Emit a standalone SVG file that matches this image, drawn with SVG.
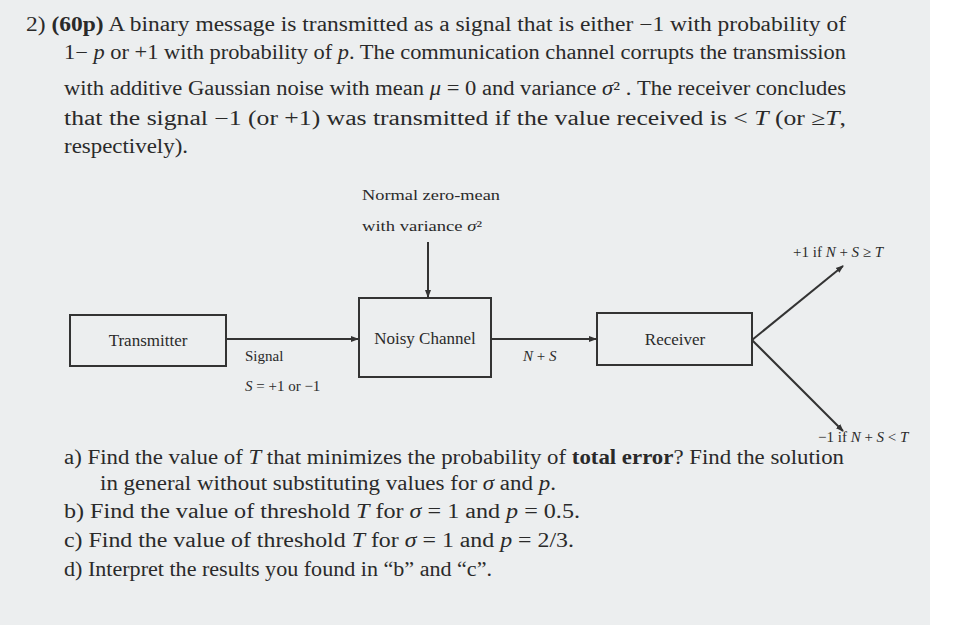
<svg xmlns="http://www.w3.org/2000/svg" width="959" height="625" viewBox="0 0 959 625">
<style>
text{font-family:"Liberation Serif",serif;fill:#2a2a2a}
.t{font-size:20px}
.s{font-size:15px}
.n{font-size:17px}
.box{fill:none;stroke:#333;stroke-width:2}
.ln{stroke:#333;stroke-width:2;fill:none}
</style>
<defs><marker id="a" markerWidth="8" markerHeight="8" refX="7" refY="4" orient="auto" markerUnits="userSpaceOnUse"><path d="M0,1 L8,4 L0,7z" fill="#333"/></marker></defs>
<rect width="959" height="625" fill="#fff"/>
<rect width="930" height="625" fill="#eceeef"/>
<g id="problem">
<text class="t" x="26" y="31" textLength="820" lengthAdjust="spacingAndGlyphs">2)  <tspan font-weight="bold">(60p)</tspan> A binary message is transmitted as a signal that is either −1 with probability of</text>
<text class="t" x="64" y="59" textLength="782" lengthAdjust="spacingAndGlyphs">1− <tspan font-style="italic">p</tspan> or +1 with probability of <tspan font-style="italic">p</tspan>. The communication channel corrupts the transmission</text>
<text class="t" x="64" y="95" textLength="782" lengthAdjust="spacingAndGlyphs">with additive Gaussian noise with mean <tspan font-style="italic">μ</tspan> = 0 and variance <tspan font-style="italic">σ</tspan>² . The receiver concludes</text>
<text class="t" x="64" y="125" textLength="782" lengthAdjust="spacingAndGlyphs">that the signal  −1  (or  +1)  was  transmitted  if  the  value  received  is  &lt; <tspan font-style="italic">T</tspan> (or  ≥<tspan font-style="italic">T</tspan>,</text>
<text class="t" x="64" y="153" textLength="124" lengthAdjust="spacingAndGlyphs">respectively).</text>
</g>
<g id="noise-label">
<text class="s" x="362" y="200" textLength="138" lengthAdjust="spacingAndGlyphs">Normal zero-mean</text>
<text class="s" x="362" y="231" textLength="120" lengthAdjust="spacingAndGlyphs">with variance <tspan font-style="italic">σ</tspan>²</text>
</g>
<g id="transmitter"><rect class="box" x="70" y="315" width="156" height="51"/><text class="n" x="148" y="346" text-anchor="middle">Transmitter</text></g>
<g id="channel"><rect class="box" x="359" y="298" width="132" height="79"/><text class="n" x="425" y="344" text-anchor="middle">Noisy Channel</text></g>
<g id="receiver"><rect class="box" x="597" y="313" width="155" height="52"/><text class="n" x="675" y="345" text-anchor="middle">Receiver</text></g>
<g id="connectors">
<line class="ln" x1="428" y1="242" x2="428" y2="297" marker-end="url(#a)"/>
<line class="ln" x1="226" y1="339" x2="358" y2="339" marker-end="url(#a)"/>
<line class="ln" x1="491" y1="339" x2="596" y2="339" marker-end="url(#a)"/>
<line class="ln" x1="752" y1="340" x2="843" y2="266" marker-end="url(#a)"/>
<line class="ln" x1="752" y1="340" x2="843" y2="431" marker-end="url(#a)"/>
</g>
<g id="labels">
<text class="s" x="245" y="361">Signal</text>
<text class="s" x="245" y="391"><tspan font-style="italic">S</tspan> = +1 or −1</text>
<text class="s" x="523" y="361"><tspan font-style="italic">N</tspan> + <tspan font-style="italic">S</tspan></text>
<text class="s" x="793" y="257">+1 if <tspan font-style="italic">N</tspan> + <tspan font-style="italic">S</tspan> ≥ <tspan font-style="italic">T</tspan></text>
<text class="s" x="818" y="442">−1 if <tspan font-style="italic">N</tspan> + <tspan font-style="italic">S</tspan> &lt; <tspan font-style="italic">T</tspan></text>
</g>
<g id="questions">
<text class="t" x="64" y="464" textLength="780" lengthAdjust="spacingAndGlyphs">a)  Find the value of <tspan font-style="italic">T</tspan> that minimizes the probability of <tspan font-weight="bold">total error</tspan>? Find the solution</text>
<text class="t" x="100" y="490" textLength="456" lengthAdjust="spacingAndGlyphs">in general without substituting values for <tspan font-style="italic">σ</tspan>  and <tspan font-style="italic">p</tspan>.</text>
<text class="t" x="64" y="518" textLength="516" lengthAdjust="spacingAndGlyphs">b)  Find the value of threshold <tspan font-style="italic">T</tspan> for <tspan font-style="italic">σ</tspan> = 1 and  <tspan font-style="italic">p</tspan> = 0.5.</text>
<text class="t" x="64" y="547" textLength="510" lengthAdjust="spacingAndGlyphs">c)  Find the value of threshold <tspan font-style="italic">T</tspan> for <tspan font-style="italic">σ</tspan> = 1 and  <tspan font-style="italic">p</tspan> = 2/3.</text>
<text class="t" x="64" y="576" textLength="428" lengthAdjust="spacingAndGlyphs">d)  Interpret the results you found in “b” and “c”.</text>
</g>
</svg>
